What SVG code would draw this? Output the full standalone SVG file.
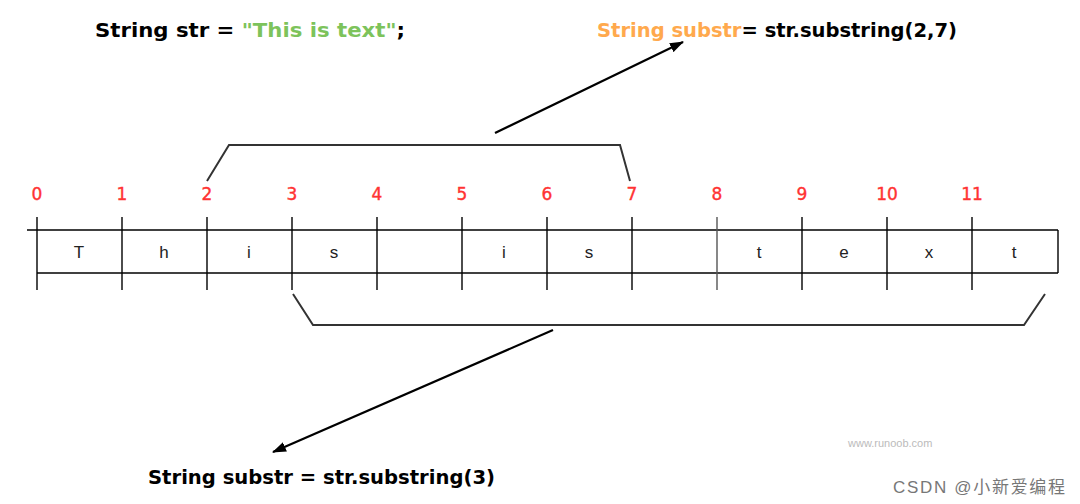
<svg xmlns="http://www.w3.org/2000/svg" width="1080" height="504" viewBox="0 0 1080 504">
<style>
.code{font-family:"DejaVu Sans",sans-serif;font-weight:bold;font-size:20px;fill:#000}
.idx{font-family:"DejaVu Sans",sans-serif;font-size:17px;fill:#ff3333;text-anchor:middle;stroke:#ff3333;stroke-width:0.4}
.ch{font-family:"Liberation Sans",sans-serif;font-size:17px;fill:#222;text-anchor:middle}
.ln{stroke:#000;stroke-width:1.4;fill:none}
.br{stroke:#333;stroke-width:2;fill:none}
.ar{stroke:#000;stroke-width:2.2;fill:none}
</style>
<defs><marker id="ah" markerWidth="14" markerHeight="10" refX="13" refY="5" orient="auto" markerUnits="userSpaceOnUse"><path d="M0,0 L14,5 L0,10 Z" fill="#000"/></marker></defs>
<rect width="1080" height="504" fill="#fff"/>
<g id="declaration"><text class="code" x="95" y="37" textLength="310" lengthAdjust="spacingAndGlyphs">String  str = <tspan fill="#7dc35b">"This is text"</tspan>;</text></g>
<g id="substr27"><text class="code" x="597" y="37" textLength="360" lengthAdjust="spacingAndGlyphs"><tspan fill="#ffa94d">String substr</tspan>= str.substring(2,7)</text></g>
<g id="substr3"><text class="code" x="148" y="484" textLength="347" lengthAdjust="spacingAndGlyphs">String substr = str.substring(3)</text></g>
<g id="array">
<line class="ln" x1="27" y1="230" x2="1058" y2="230"/>
<line class="ln" x1="37" y1="273" x2="1058" y2="273"/>
<line class="ln" x1="1058" y1="230" x2="1058" y2="273"/>
<g class="ln">
<line x1="37" y1="217" x2="37" y2="290"/><line x1="122" y1="217" x2="122" y2="290"/><line x1="207" y1="217" x2="207" y2="290"/><line x1="292" y1="217" x2="292" y2="290"/><line x1="377" y1="217" x2="377" y2="290"/><line x1="462" y1="217" x2="462" y2="290"/><line x1="547" y1="217" x2="547" y2="290"/><line x1="632" y1="217" x2="632" y2="290"/><line x1="717" y1="217" x2="717" y2="290" stroke="#555"/><line x1="802" y1="217" x2="802" y2="290"/><line x1="887" y1="217" x2="887" y2="290"/><line x1="972" y1="217" x2="972" y2="290"/>
</g>
<text class="idx" x="37" y="200">0</text><text class="idx" x="122" y="200">1</text><text class="idx" x="207" y="200">2</text><text class="idx" x="292" y="200">3</text><text class="idx" x="377" y="200">4</text><text class="idx" x="462" y="200">5</text><text class="idx" x="547" y="200">6</text><text class="idx" x="632" y="200">7</text><text class="idx" x="717" y="200">8</text><text class="idx" x="802" y="200">9</text><text class="idx" x="887" y="200">10</text><text class="idx" x="972" y="200">11</text>
<text class="ch" x="79" y="258">T</text><text class="ch" x="164" y="258">h</text><text class="ch" x="249" y="258">i</text><text class="ch" x="334" y="258">s</text><text class="ch" x="504" y="258">i</text><text class="ch" x="589" y="258">s</text><text class="ch" x="759" y="258">t</text><text class="ch" x="844" y="258">e</text><text class="ch" x="929" y="258">x</text><text class="ch" x="1014" y="258">t</text>
</g>
<g id="connectors">
<polyline class="br" points="207,181 229,145 620,145 630,181"/>
<polyline class="br" points="293,294 313,325 1024,325 1045,294"/>
<line class="ar" x1="495" y1="133" x2="683" y2="42" marker-end="url(#ah)"/>
<line class="ar" x1="553" y1="330" x2="273" y2="452" marker-end="url(#ah)"/>
</g>
<text x="848" y="447" font-family="Liberation Sans,sans-serif" font-size="11" fill="#bbb">www.runoob.com</text>
<text x="893" y="493" font-family="Liberation Sans,'Noto Sans CJK SC',sans-serif" font-size="17" fill="#777" textLength="172">CSDN @小新爱编程</text>
</svg>
